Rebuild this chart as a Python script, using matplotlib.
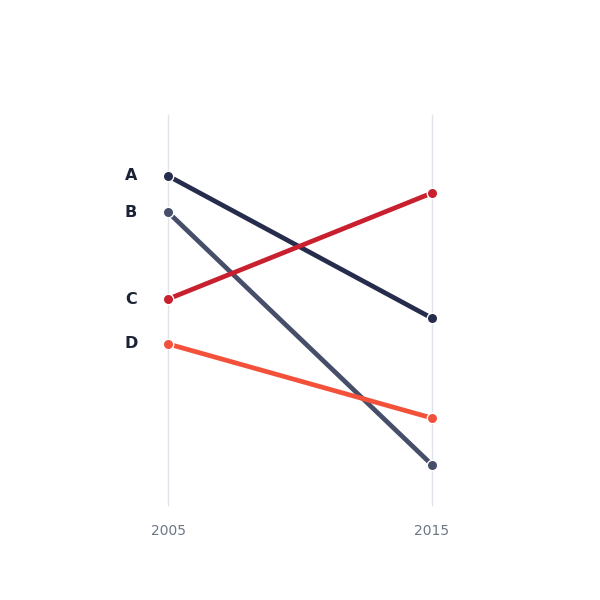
import matplotlib
matplotlib.use("Agg")
import matplotlib.pyplot as plt

# slope chart data (scale 0-100)
years = [2005, 2015]
names = ["A", "B", "C", "D"]
start_vals = [84.4, 75.1, 52.8, 41.3]
end_vals = [47.9, 10.3, 80.0, 22.3]
colors = ["#252c4c", "#474e6a", "#c8202f", "#f4513b"]

fig = plt.figure(figsize=(6, 6), dpi=100)
ax = fig.add_axes([168 / 600, 1 - 505 / 600, (432 - 168) / 600, 390 / 600])
ax.set_xlim(years[0], years[1])
ax.set_ylim(0, 100)

# light vertical guides
for yr in years:
    ax.axvline(yr, color="#dfe4ea", lw=1, zorder=0, clip_on=False)

for name, v0, v1, c in zip(names, start_vals, end_vals, colors):
    ax.plot(years, [v0, v1], color=c, lw=3.4, solid_capstyle="butt",
            marker="o", markersize=7.5, markeredgecolor="white",
            markeredgewidth=1, clip_on=False, zorder=3)
    ax.text(years[0] - 1.4, v0, name, ha="center", va="center",
            fontsize=11.5, fontweight="bold", color="#1b2236")

ax.set_xticks(years)
ax.set_xticklabels([str(y) for y in years], color="#6b7886", fontsize=10)
ax.tick_params(axis="x", length=0, pad=14)
ax.set_yticks([])
for s in ax.spines.values():
    s.set_visible(False)

fig.savefig("out.png", dpi=100)
